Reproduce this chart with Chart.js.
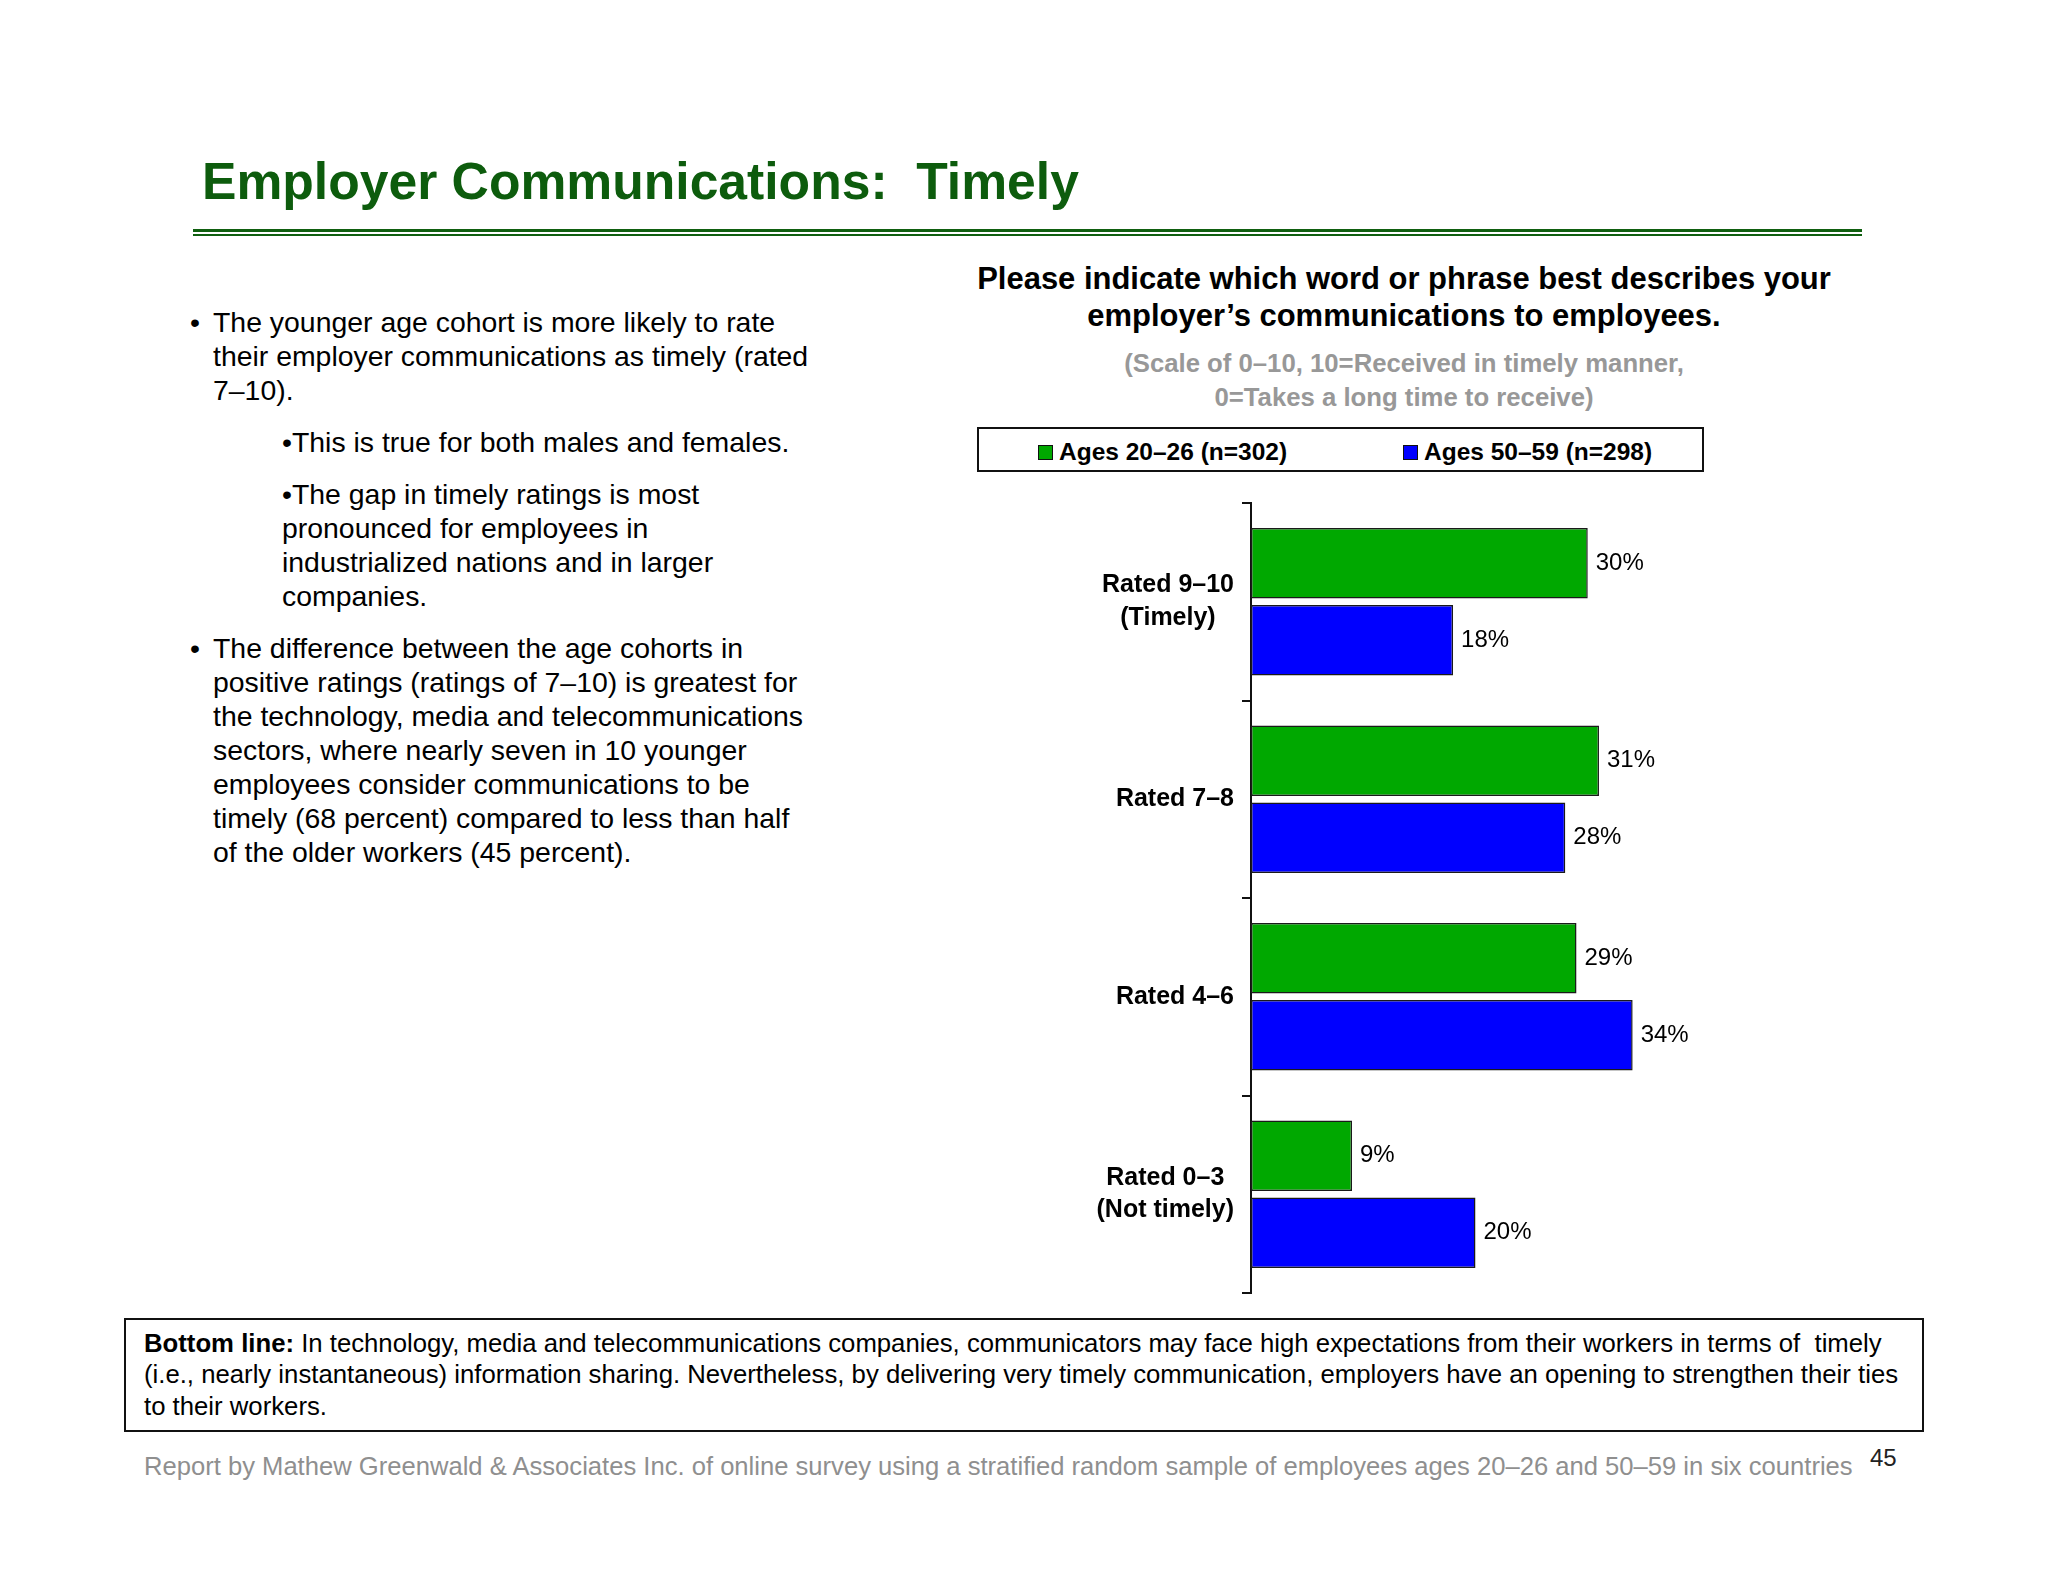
<!DOCTYPE html>
<html>
<head>
<meta charset="utf-8">
<script src="https://cdn.jsdelivr.net/npm/chart.js@4.4.1/dist/chart.umd.min.js"></script>
<style>
html,body{margin:0;padding:0;background:#fff;}
body{width:2048px;height:1582px;position:relative;overflow:hidden;font-family:"Liberation Sans",Arial,Helvetica,sans-serif;color:#000;}
.abs{position:absolute;white-space:nowrap;}
#title{left:202px;top:155px;font-size:52px;line-height:52px;font-weight:bold;color:#0d5c0d;}
.rule{position:absolute;left:193px;width:1669px;height:2.6px;background:#0f5f0f;}
#ctitle{left:1404px;top:260px;transform:translateX(-50%);text-align:center;font-weight:bold;font-size:31px;line-height:37px;}
#csub{left:1404px;top:346px;transform:translateX(-50%);text-align:center;font-weight:bold;font-size:25.5px;line-height:34px;color:#989898;}
#legendBox{position:absolute;left:977px;top:427px;width:727px;height:45px;box-sizing:border-box;border:2px solid #111;}
.lgsq{position:absolute;width:15px;height:15px;box-sizing:border-box;border:1.5px solid #111;}
.lgtx{position:absolute;white-space:nowrap;font-weight:bold;font-size:24.5px;line-height:24.5px;}
#left{left:0;top:0;font-size:28.4px;line-height:34px;}
.para{position:absolute;white-space:nowrap;}
.bul{position:absolute;white-space:nowrap;}
#bottomBox{position:absolute;left:124px;top:1318px;width:1800px;height:114px;box-sizing:border-box;border:2.5px solid #111;}
#bottomText{left:144px;top:1328px;font-size:23.5px;line-height:31.3px;}
#footer{left:144px;top:1454px;font-size:24px;line-height:24px;color:#8f8f8f;}
#pageno{left:1870px;top:1446px;font-size:24px;line-height:24px;color:#222;}
#chartWrap{position:absolute;left:1050px;top:490px;width:700px;height:820px;}
</style>
</head>
<body>
<div id="title" class="abs"><span id="titleSpan">Employer Communications:&nbsp; Timely</span></div>
<div class="rule" style="top:229px"></div>
<div class="rule" style="top:233.6px"></div>

<div id="left" class="abs">
  <div class="bul" style="left:190px;top:305px;">•</div>
  <div class="para" style="left:213px;top:305px;"><span id="bulletLine1">The younger age cohort is more likely to rate</span><br>their employer communications as timely (rated<br>7–10).</div>
  <div class="para" style="left:282px;top:425px;">•This is true for both males and females.</div>
  <div class="para" style="left:282px;top:477px;">•The gap in timely ratings is most<br>pronounced for employees in<br>industrialized nations and in larger<br>companies.</div>
  <div class="bul" style="left:190px;top:631px;">•</div>
  <div class="para" style="left:213px;top:631px;">The difference between the age cohorts in<br>positive ratings (ratings of 7–10) is greatest for<br>the technology, media and telecommunications<br>sectors, where nearly seven in 10 younger<br>employees consider communications to be<br>timely (68 percent) compared to less than half<br>of the older workers (45 percent).</div>
</div>

<div id="ctitle" class="abs"><span id="ctitle1">Please indicate which word or phrase best describes your</span><br>employer’s communications to employees.</div>
<div id="csub" class="abs"><span id="csub1">(Scale of 0–10, 10=Received in timely manner,</span><br>0=Takes a long time to receive)</div>

<div id="legendBox"></div>

<div id="chartWrap"><canvas id="chart" width="700" height="820"></canvas></div>

<div id="bottomBox"></div>
<div id="bottomText" class="abs"><b>Bottom line:</b> In technology, media and telecommunications companies, communicators may face high expectations from their workers in terms of&nbsp; timely<br><span id="bottomLine2">(i.e., nearly instantaneous) information sharing. Nevertheless, by delivering very timely communication, employers have an opening to strengthen their ties</span><br>to their workers.</div>

<div id="footer" class="abs"><span id="footerSpan">Report by Mathew Greenwald &amp; Associates Inc. of online survey using a stratified random sample of employees ages 20–26 and 50–59 in six countries</span></div>
<div id="pageno" class="abs">45</div>

<script>
// ---- Data ----
const categories = [['Rated 9–10', '(Timely)'], ['Rated 7–8'], ['Rated 4–6'], ['Rated 0–3', '(Not timely)']];
const seriesNames = ['Ages 20–26 (n=302)', 'Ages 50–59 (n=298)'];
const youngValues = [30, 31, 29, 9];
const olderValues = [18, 28, 34, 20];

// ---- Styles ----
const GREEN = '#00a800';
const BLUE = '#0000ff';
const FONT = '"Liberation Sans", Arial, Helvetica, sans-serif';

// ---- Fit text widths to reference ----
function fitTo(measureEl, target, applyEl) {
  const w = measureEl.getBoundingClientRect().width;
  const fs = parseFloat(getComputedStyle(applyEl).fontSize);
  applyEl.style.fontSize = (fs * target / w).toFixed(2) + 'px';
}
fitTo(document.getElementById('titleSpan'), 877, document.getElementById('title'));
fitTo(document.getElementById('ctitle1'), 854, document.getElementById('ctitle'));
fitTo(document.getElementById('csub1'), 560, document.getElementById('csub'));
fitTo(document.getElementById('bulletLine1'), 562, document.getElementById('left'));
fitTo(document.getElementById('bottomLine2'), 1754, document.getElementById('bottomText'));
fitTo(document.getElementById('footerSpan'), 1709, document.getElementById('footer'));

// ---- Plugins ----
const valueLabels = {
  id: 'valueLabels',
  afterDatasetsDraw(chart) {
    const ctx = chart.ctx;
    ctx.save();
    ctx.font = '24px ' + FONT;
    ctx.fillStyle = '#000';
    ctx.textAlign = 'left';
    ctx.textBaseline = 'middle';
    chart.data.datasets.forEach((ds, di) => {
      chart.getDatasetMeta(di).data.forEach((bar, i) => {
        ctx.fillText(ds.data[i] + '%', bar.x + 8, bar.y);
      });
    });
    ctx.restore();
  }
};

const categoryLabels = {
  id: 'categoryLabels',
  afterDraw(chart) {
    const s = chart.scales.y;
    const ctx = chart.ctx;
    ctx.save();
    ctx.font = 'bold 25px ' + FONT;
    ctx.fillStyle = '#000';
    ctx.textAlign = 'center';
    ctx.textBaseline = 'middle';
    const lh = 32.7;
    s.ticks.forEach((t, i) => {
      const lbl = chart.data.labels[i];
      const lines = Array.isArray(lbl) ? lbl : [lbl];
      const maxW = Math.max(...lines.map(l => ctx.measureText(l).width));
      const cx = s.right - 17 - maxW / 2;
      const y = s.getPixelForTick(i);
      lines.forEach((l, j) => {
        ctx.fillText(l, cx, y + (j - (lines.length - 1) / 2) * lh);
      });
    });
    ctx.restore();
  }
};

// ---- Chart ----
const chart = new Chart(document.getElementById('chart'), {
  type: 'bar',
  data: {
    labels: categories,
    datasets: [
      { label: seriesNames[0], data: youngValues, backgroundColor: GREEN, borderColor: '#1a1a1a', borderWidth: 1.5, borderSkipped: false },
      { label: seriesNames[1], data: olderValues, backgroundColor: BLUE, borderColor: '#1a1a1a', borderWidth: 1.5, borderSkipped: false }
    ]
  },
  options: {
    indexAxis: 'y',
    responsive: false,
    devicePixelRatio: 1,
    animation: false,
    events: [],
    categoryPercentage: 0.78,
    barPercentage: 0.916,
    layout: { padding: { left: 0, top: 13, right: 50, bottom: 17 } },
    plugins: { legend: { display: false }, tooltip: { enabled: false }, title: { display: false } },
    scales: {
      x: { display: false, min: 0, max: 40 },
      y: {
        grid: { offset: true, drawOnChartArea: false, drawTicks: true, tickLength: 9, color: '#111', lineWidth: 2 },
        border: { display: true, color: '#111', width: 2 },
        ticks: { display: false },
        afterFit(scale) { scale.width = 201; }
      }
    }
  },
  plugins: [valueLabels, categoryLabels]
});

// ---- HTML legend built from the chart's datasets ----
const legendLeft = [1038, 1403];
chart.data.datasets.forEach((ds, i) => {
  const sq = document.createElement('div');
  sq.className = 'lgsq';
  sq.style.left = legendLeft[i] + 'px';
  sq.style.top = '444.5px';
  sq.style.background = ds.backgroundColor;
  document.body.appendChild(sq);
  const tx = document.createElement('div');
  tx.className = 'lgtx';
  tx.style.left = (legendLeft[i] + 21) + 'px';
  tx.style.top = '440px';
  tx.textContent = ds.label;
  document.body.appendChild(tx);
});
</script>
</body>
</html>
